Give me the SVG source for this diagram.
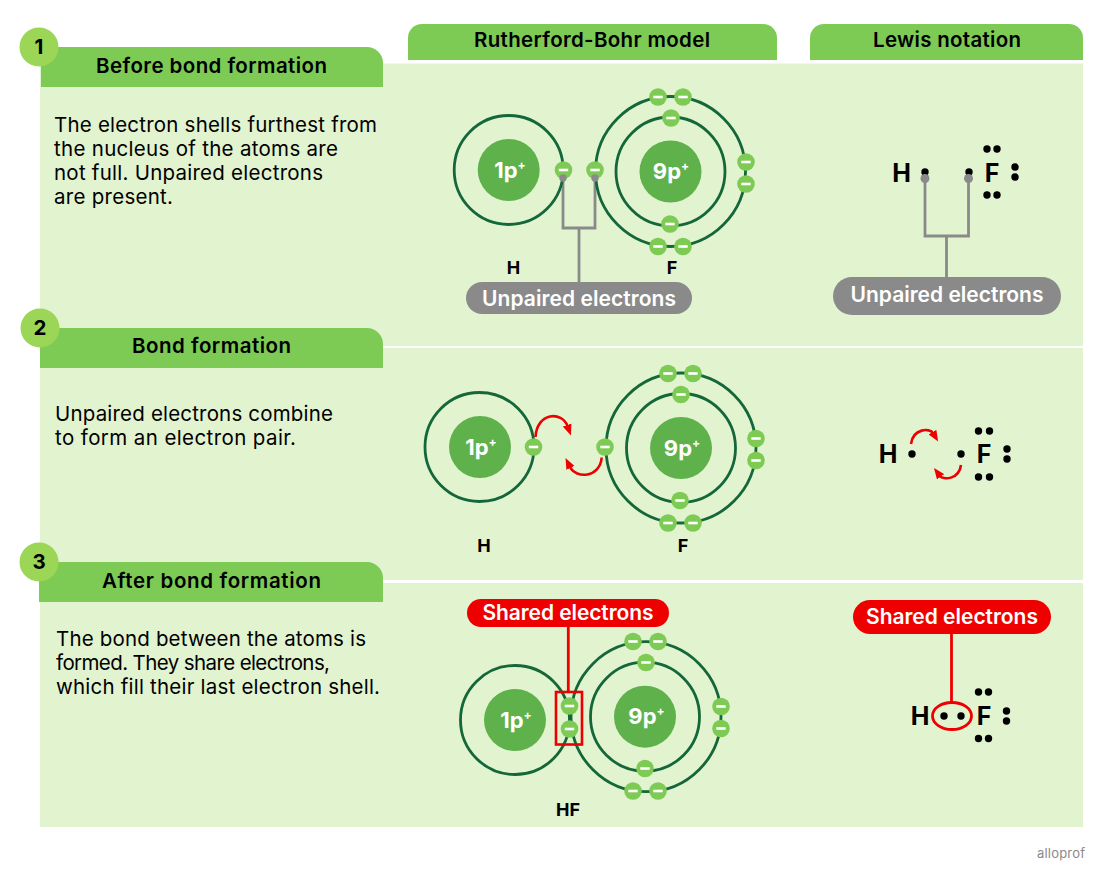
<svg xmlns="http://www.w3.org/2000/svg" width="1106" height="877" viewBox="0 0 1106 877">
<style>
text{font-family:Inter,"Liberation Sans",sans-serif;fill:#000}
.panel{fill:#e2f3d0}
.tab{fill:#7dcb54}
.num{fill:#9bd656}
.title{font-size:20.500px;font-weight:600;text-anchor:middle}
.body{font-size:20.500px;font-weight:400}
.nuc{fill:#5fb14c}
.nt{font-size:22px;font-weight:700;fill:#fff;text-anchor:middle}
.sup{font-size:12px}
.shell{fill:none;stroke:#146738;stroke-width:2.800}
.sym{font-size:18px;font-weight:700;text-anchor:middle}
.lsym{font-size:25px;font-weight:700;text-anchor:middle}
.dot{fill:#000}
.pill-g{fill:#8a8a8a}
.pill-r{fill:#ee0000}
.pt{font-size:21px;font-weight:600;fill:#fff;text-anchor:middle}
.gline{fill:none;stroke:#8a8a8a;stroke-width:2.800}
.gdot{fill:#8a8a8a}
.rline{fill:none;stroke:#ee0000;stroke-width:2.800}
.rarrow{fill:none;stroke:#ee0000;stroke-width:2.600;marker-end:url(#ah)}
</style>
<defs>
<marker id="ah" markerUnits="userSpaceOnUse" markerWidth="12" markerHeight="10" refX="1" refY="5" orient="auto"><path d="M0,0.500 L11,5 L0,9.500 Z" fill="#ee0000"/></marker>
<g id="e"><circle r="8.800" fill="#7dcb54"/><rect x="-4.700" y="-1.300" width="9.400" height="2.600" fill="#fff"/></g>
<g id="fF"><use href="#e" x="-12.500" y="-74.500"/><use href="#e" x="12.500" y="-74.500"/><use href="#e" x="0.500" y="-53.500"/><use href="#e" x="75.500" y="-9.500"/><use href="#e" x="75.500" y="12.500"/><use href="#e" x="-0.500" y="52.500"/><use href="#e" x="-12.500" y="75"/><use href="#e" x="12.500" y="75"/></g>
</defs>
<rect width="1106" height="877" fill="#fff"/>

<g id="panels">
<rect class="panel" x="40" y="63.500" width="1043" height="282.500"/>
<rect class="panel" x="40" y="348" width="1043" height="232"/>
<rect class="panel" x="40" y="583" width="1043" height="244"/>
</g>

<g id="header-rutherford"><path class="tab" d="M408,60V38a14,14 0 0 1 14-14H763a14,14 0 0 1 14,14V60Z"/><text class="title" x="592" y="47" textLength="236">Rutherford-Bohr model</text></g>
<g id="header-lewis"><path class="tab" d="M810,60V38a14,14 0 0 1 14-14H1069a14,14 0 0 1 14,14V60Z"/><text class="title" x="947" y="47" textLength="148">Lewis notation</text></g>

<g id="step1">
<path fill="#fff" d="M40,40H383V63H40Z"/>
<path class="tab" d="M41,87V47H367a16,16 0 0 1 16,16V87Z"/>
<circle class="num" cx="39" cy="47" r="19.500"/>
<text class="title" x="39" y="54" style="font-weight:700">1</text>
<text class="title" x="211.500" y="72.500" textLength="231">Before bond formation</text>
<text class="body" x="54" y="131.500" textLength="323">The electron shells furthest from</text>
<text class="body" x="54" y="155.500" textLength="284">the nucleus of the atoms are</text>
<text class="body" x="54" y="179.500" textLength="269">not full. Unpaired electrons</text>
<text class="body" x="54" y="203.500" textLength="119">are present.</text>
</g>
<g id="step2">
<path class="tab" d="M40,368V328H367a16,16 0 0 1 16,16V368Z"/>
<circle class="num" cx="40" cy="328" r="19.500"/>
<text class="title" x="40" y="335" style="font-weight:700">2</text>
<text class="title" x="211.500" y="353" textLength="159">Bond formation</text>
<text class="body" x="55" y="420.500" textLength="278">Unpaired electrons combine</text>
<text class="body" x="55" y="444.500" textLength="241">to form an electron pair.</text>
</g>
<g id="step3">
<path class="tab" d="M39,602V562H367a16,16 0 0 1 16,16V602Z"/>
<circle class="num" cx="39" cy="562" r="19.500"/>
<text class="title" x="39" y="569" style="font-weight:700">3</text>
<text class="title" x="211.500" y="588" textLength="219">After bond formation</text>
<text class="body" x="56" y="646" textLength="310">The bond between the atoms is</text>
<text class="body" x="56" y="670" textLength="274">formed. They share electrons,</text>
<text class="body" x="56" y="694" textLength="324">which fill their last electron shell.</text>
</g>

<g id="connectors">
<path class="gline" d="M563,178V228H595V178M579,228V282"/>
<path class="gline" d="M925,178V236H968.500V178M946.500,236V277"/>
<path class="rline" d="M568.300,627V691"/>
<path class="rline" d="M951.500,634V703"/>
<path class="rarrow" d="M535.500,437C537,412 562,411 567.500,426"/>
<path class="rarrow" d="M601.700,457.500C600,478 576,479 570,467"/>
<path class="rarrow" d="M911,444C913,428 930,428 933,433"/>
<path class="rarrow" d="M961,465C959,480 943,480 940,476"/>
</g>

<g id="atom-h1"><circle class="shell" cx="508.700" cy="170" r="54.500"/><circle class="nuc" cx="508.700" cy="170" r="31"/><text class="nt" x="510" y="177.500">1p<tspan class="sup" dy="-9">+</tspan></text><use href="#e" x="563.500" y="170"/><circle class="gdot" cx="563" cy="178" r="3.700"/><text class="sym" x="513.500" y="273.500">H</text></g>
<g id="atom-f1"><circle class="shell" cx="670.500" cy="171.500" r="75"/><circle class="shell" cx="670.500" cy="171.500" r="54.500"/><circle class="nuc" cx="670.500" cy="171.500" r="31"/><text class="nt" x="671" y="178.500">9p<tspan class="sup" dy="-9">+</tspan></text><use href="#fF" x="670.500" y="171.500"/><use href="#e" x="595" y="170"/><circle class="gdot" cx="595" cy="178" r="3.700"/><text class="sym" x="672" y="273.500">F</text></g>
<g id="label-unpaired-1"><rect class="pill-g" x="466" y="282" width="226" height="32" rx="16"/><text class="pt" x="579" y="306" textLength="194">Unpaired electrons</text></g>

<g id="lewis-1"><text class="lsym" x="901.500" y="181.500">H</text><text class="lsym" x="992" y="181.500">F</text>
<circle class="dot" cx="925" cy="172" r="3.700"/><circle class="dot" cx="969" cy="172" r="3.700"/>
<circle class="dot" cx="987" cy="149" r="3.700"/><circle class="dot" cx="997" cy="149" r="3.700"/><circle class="dot" cx="1015" cy="167" r="3.700"/><circle class="dot" cx="1015" cy="177" r="3.700"/><circle class="dot" cx="987" cy="195" r="3.700"/><circle class="dot" cx="997" cy="195" r="3.700"/>
<circle class="gdot" cx="925" cy="178.500" r="4.500"/><circle class="gdot" cx="968.500" cy="178.500" r="4.500"/></g>
<g id="label-unpaired-2"><rect class="pill-g" x="833" y="277" width="228" height="38" rx="19"/><text class="pt" x="947" y="301.500" textLength="193">Unpaired electrons</text></g>

<g id="atom-h2"><circle class="shell" cx="479.500" cy="447" r="54.500"/><circle class="nuc" cx="480" cy="447" r="31"/><text class="nt" x="481" y="454.500">1p<tspan class="sup" dy="-9">+</tspan></text><use href="#e" x="533.500" y="447"/><text class="sym" x="484" y="552">H</text></g>
<g id="atom-f2"><circle class="shell" cx="681" cy="448" r="75"/><circle class="shell" cx="681" cy="448" r="54.500"/><circle class="nuc" cx="681" cy="448" r="31"/><text class="nt" x="682" y="455.500">9p<tspan class="sup" dy="-9">+</tspan></text><use href="#fF" x="680.500" y="448"/><use href="#e" x="605" y="447"/><text class="sym" x="683" y="552">F</text></g>

<g id="lewis-2"><text class="lsym" x="888" y="463">H</text><text class="lsym" x="984" y="463">F</text>
<circle class="dot" cx="912" cy="454" r="3.700"/><circle class="dot" cx="961" cy="454" r="3.700"/>
<circle class="dot" cx="978.500" cy="431" r="3.700"/><circle class="dot" cx="989.500" cy="431" r="3.700"/><circle class="dot" cx="1007" cy="449" r="3.700"/><circle class="dot" cx="1007" cy="459" r="3.700"/><circle class="dot" cx="978.500" cy="477" r="3.700"/><circle class="dot" cx="989.500" cy="477" r="3.700"/></g>

<g id="atom-hf"><circle class="shell" cx="515" cy="720" r="54.500"/><circle class="shell" cx="646" cy="716.700" r="75"/><circle class="shell" cx="645" cy="716.700" r="54.500"/><circle class="nuc" cx="515" cy="720" r="31"/><text class="nt" x="516" y="727.500">1p<tspan class="sup" dy="-9">+</tspan></text><circle class="nuc" cx="645" cy="716.700" r="31"/><text class="nt" x="646.500" y="724">9p<tspan class="sup" dy="-9">+</tspan></text>
<use href="#fF" x="645.500" y="716"/><use href="#e" x="569.500" y="706"/><use href="#e" x="569.500" y="729"/>
<rect x="556" y="692" width="26" height="52.500" fill="none" stroke="#ee0000" stroke-width="2.600"/><text class="sym" x="568" y="816">HF</text></g>
<g id="label-shared-1"><rect class="pill-r" x="467" y="599" width="202" height="28" rx="14"/><text class="pt" x="568" y="620" textLength="171">Shared electrons</text></g>

<g id="lewis-3"><text class="lsym" x="920" y="725">H</text><text class="lsym" x="984" y="725">F</text>
<ellipse cx="952" cy="716" rx="19.500" ry="13.500" fill="none" stroke="#ee0000" stroke-width="2.800"/>
<circle class="dot" cx="944" cy="716" r="3.700"/><circle class="dot" cx="961" cy="716" r="3.700"/>
<circle class="dot" cx="978.500" cy="692" r="3.700"/><circle class="dot" cx="988.500" cy="692" r="3.700"/><circle class="dot" cx="1006.500" cy="711" r="3.700"/><circle class="dot" cx="1006.500" cy="721" r="3.700"/><circle class="dot" cx="978.500" cy="738.500" r="3.700"/><circle class="dot" cx="988.500" cy="738.500" r="3.700"/></g>
<g id="label-shared-2"><rect class="pill-r" x="853" y="600" width="198" height="34" rx="17"/><text class="pt" x="952" y="624" textLength="172">Shared electrons</text></g>

<text x="1037" y="858" textLength="48" style="font-size:13px;fill:#8a8a8a">alloprof</text>
</svg>
